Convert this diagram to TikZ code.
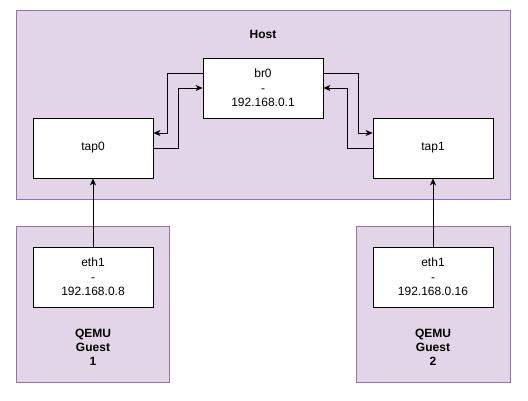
\documentclass[tikz,border=0pt]{standalone}
\usepackage{fontspec}
\setmainfont{Liberation Sans}
\usetikzlibrary{arrows.meta}
\definecolor{groupfill}{HTML}{E1D5E7}
\definecolor{groupline}{HTML}{9673A6}
\begin{document}
\begin{tikzpicture}[x=1pt,y=-1pt,
  group/.style={draw=groupline,fill=groupfill,line width=0.8pt,inner sep=0,minimum width=#1},
  box/.style={draw=black,fill=white,line width=0.8pt,minimum width=120pt,minimum height=60pt,inner sep=0,align=center,font=\fontsize{12}{14.5}\selectfont},
  lbl/.style={align=center,font=\bfseries\fontsize{12}{14}\selectfont},
  arr/.style={draw=black,line width=0.8pt,-{Stealth[length=7pt,width=6pt,inset=2pt]}}]
\useasboundingbox (0,0) rectangle (528,401);
\node[group=494pt,minimum height=189pt] (host) at (263,104.5) {};
\node[lbl] (hostlbl) at (263,34) {Host};
\node[group=153pt,minimum height=156pt] (g1) at (92.5,304) {};
\node[group=154pt,minimum height=156pt] (g2) at (433,304) {};
\node[box] (br0) at (263,88) {br0\\-\\192.168.0.1};
\node[box] (tap0) at (93,148) {tap0};
\node[box] (tap1) at (433,148) {tap1};
\node[box] (eth1a) at (93,277) {eth1\\-\\192.168.0.8};
\node[box] (eth1b) at (433,277) {eth1\\-\\192.168.0.16};
\node[lbl] (g1lbl) at (93,347) {QEMU\\Guest\\1};
\node[lbl] (g2lbl) at (433,347) {QEMU\\Guest\\2};
\draw[arr] ([yshift=15pt]br0.west) -- ++(-35,0) |- ([yshift=15pt]tap0.east);
\draw[arr] (tap0.east) -- ++(25,0) |- (br0.west);
\draw[arr] ([yshift=15pt]br0.east) -- ++(35,0) |- ([yshift=15pt]tap1.west);
\draw[arr] (tap1.west) -- ++(-25,0) |- (br0.east);
\draw[arr] (eth1a.north) -- (tap0.south);
\draw[arr] (eth1b.north) -- (tap1.south);
\end{tikzpicture}
\end{document}
